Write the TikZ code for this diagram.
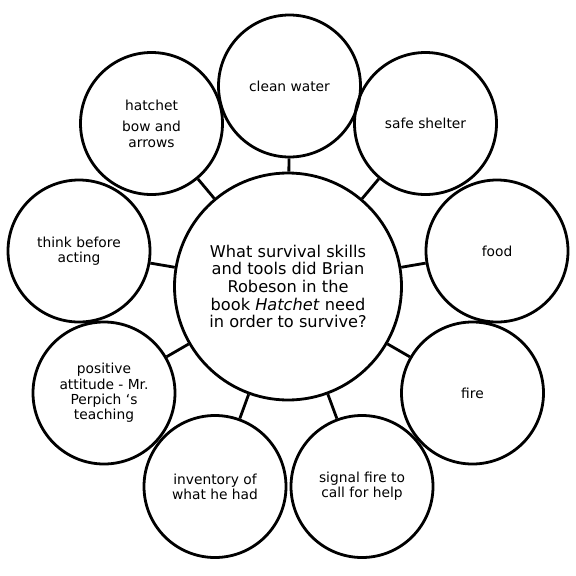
\documentclass[tikz,border=0pt]{standalone}
\usepackage{fontspec}
\setmainfont{DejaVu Sans}
\begin{document}
\begin{tikzpicture}[x=1pt,y=-1pt,
  outer/.style={circle,draw,line width=2.8pt,minimum size=142pt,inner sep=0pt,align=center,
    font=\fontsize{13.8}{15.3}\selectfont},
  hub/.style={circle,draw,line width=2.8pt,minimum size=227pt,inner sep=0pt,align=center,
    font=\fontsize{16.2}{17.6}\selectfont},
  link/.style={line width=2.8pt}]
\useasboundingbox (0,0) rectangle (576,576);
\node[hub] (c) at (288,286.5) {What survival skills\\and tools did Brian\\Robeson in the\\book \textit{Hatchet} need\\in order to survive?};
\node[outer] (water) at (289.5,86) {clean water};
\node[outer] (shelter) at (425.5,123.5) {safe shelter};
\node[outer] (food) at (497,251) {food};
\node[outer] (fire) at (472.5,393) {fire};
\node[outer] (signal) at (362,486.5) {signal fire to\\call for help};
\node[outer] (inv) at (215,486.5) {inventory of\\what he had};
\node[outer] (pos) at (104,393) {positive\\attitude - Mr.\\Perpich ‘s\\teaching};
\node[outer] (think) at (79,251) {think before\\acting};
\node[outer] (hatchet) at (151.5,123.5) {hatchet\\[6.5pt]bow and\\arrows};
\foreach \n in {water,shelter,food,fire,signal,inv,pos,think,hatchet}
  \draw[link] (c) -- (\n);
\end{tikzpicture}
\end{document}
